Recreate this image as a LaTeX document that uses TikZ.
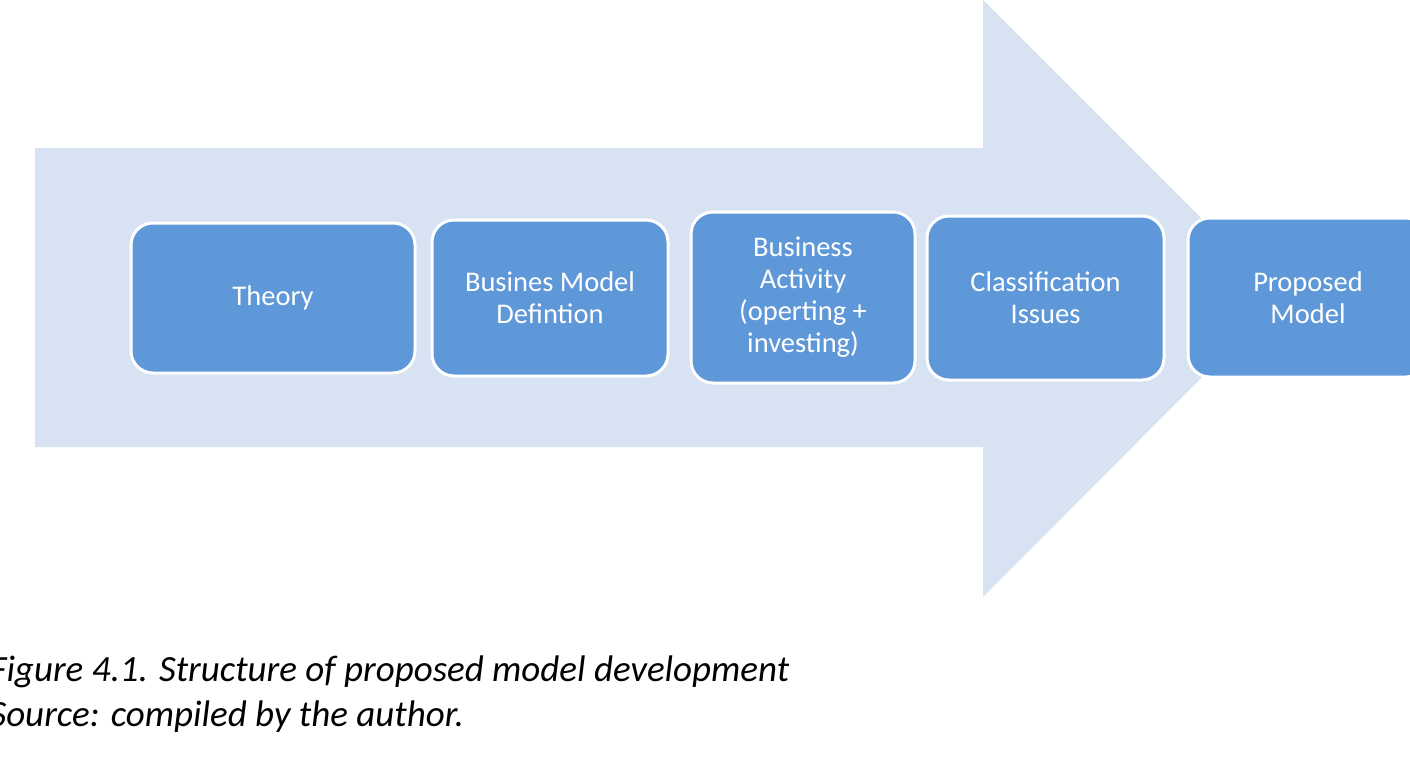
\documentclass[tikz,border=0pt]{standalone}
\usepackage{fontspec}
\setmainfont{Carlito}
\definecolor{arrowc}{HTML}{D7E2F3}
\definecolor{boxc}{HTML}{5F98D8}
\begin{document}
\begin{tikzpicture}[x=1pt,y=-1pt,
  box/.style={draw=white,line width=3pt,fill=boxc,rounded corners=22pt,text=white,font=\fontsize{28.5}{32}\selectfont,align=center},
  captxt/.style={anchor=west,font=\fontsize{37}{45}\selectfont\itshape}]
\useasboundingbox (0,0) rectangle (1410,765);
\clip (0,0) rectangle (1410,765);
\fill[arrowc] (35,148) -- (983,148) -- (983,0) -- (1281,298) -- (983,597) -- (983,447) -- (35,447) -- cycle;
\node[box,minimum width=284pt,minimum height=150pt] (t) at (273,298) {Theory};
\node[box,minimum width=236pt,minimum height=156pt] (b) at (550,298) {Busines Model\\Defintion};
\node[box,minimum width=224pt,minimum height=171pt] (a) at (803,297.5) {Business\\Activity\\(operting +\\investing)};
\node[box,minimum width=237pt,minimum height=164pt] (c) at (1045.5,298) {Classification\\Issues};
\node[box,minimum width=240pt,minimum height=159pt] (p) at (1308,297.5) {Proposed\\Model};
\node[captxt] (c1) at (-14,672) {Figure 4.1. Structure of proposed model development};
\node[captxt] (c2) at (-14,717) {Source: compiled by the author.};
\end{tikzpicture}
\end{document}
